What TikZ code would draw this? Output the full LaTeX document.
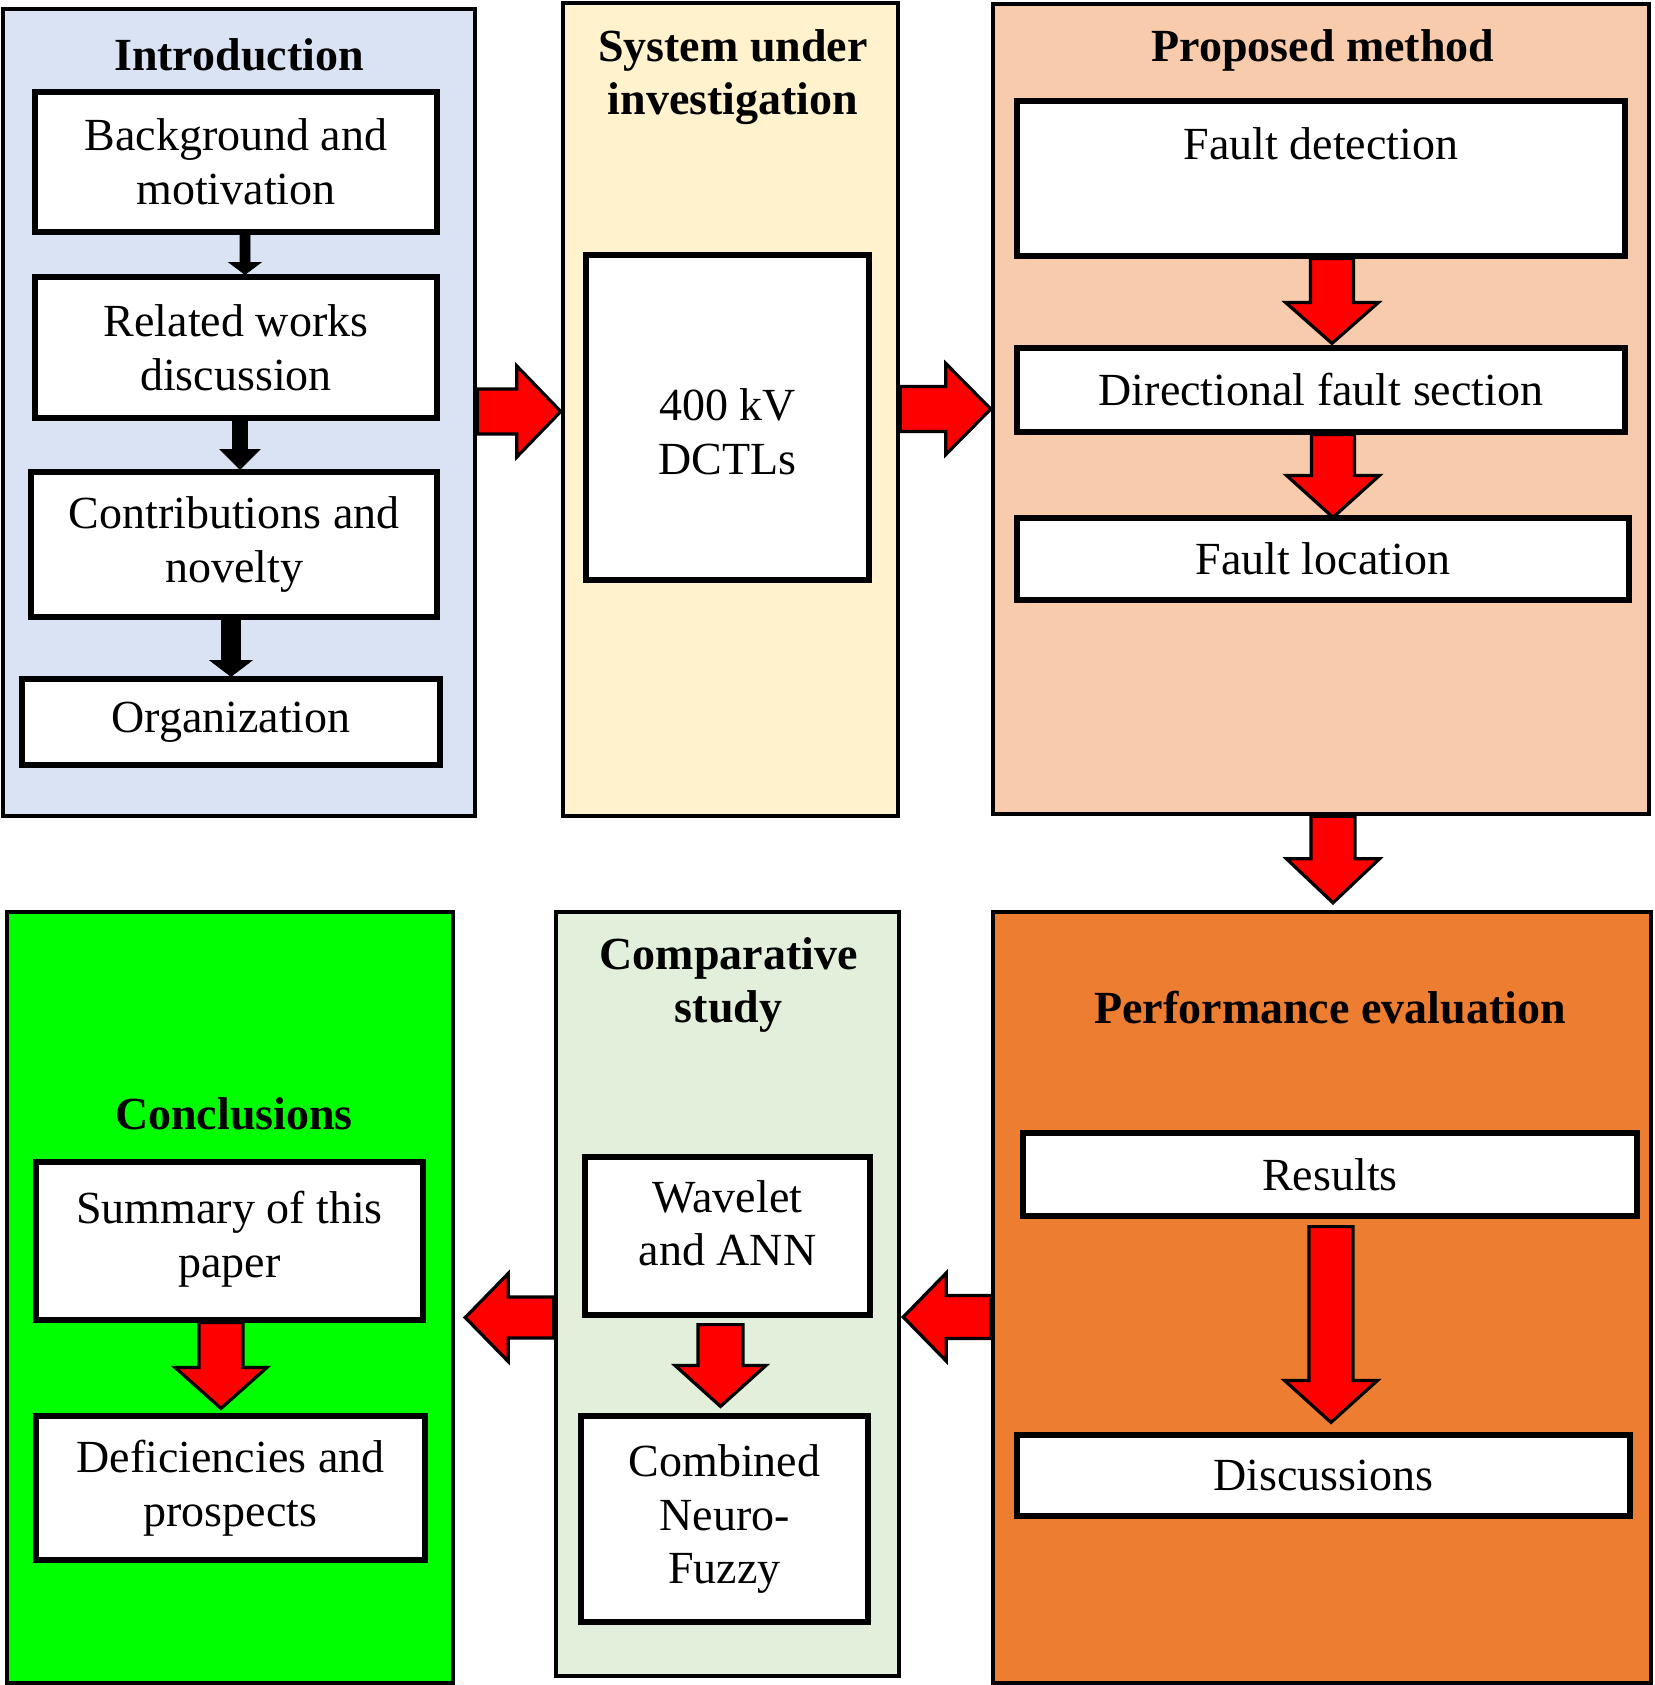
\documentclass[tikz,border=0pt]{standalone}
\usepackage{fontspec}
\setmainfont{Liberation Serif}
\usepackage{tikz}
\usetikzlibrary{calc}

\newcommand{\boxfont}{\fontsize{23}{26.8}\selectfont}

% Стрелка вниз: откуда, острие, полуширина, полуширина головки, длина головки, стиль
\newcommand{\blockdown}[6]{%
    \coordinate (ba-f) at (#1);
    \coordinate (ba-t) at (#2);
    \coordinate (ba-s) at (ba-t |- ba-f);
    \draw[#6] ($(ba-s)+(-#3,0)$) -- ($(ba-t)+(-#3,-#5)$) -- ($(ba-t)+(-#4,-#5)$) -- (ba-t)
        -- ($(ba-t)+(#4,-#5)$) -- ($(ba-t)+(#3,-#5)$) -- ($(ba-s)+(#3,0)$) -- cycle;
}

% Стрелка вбок: откуда, острие, полуширина, полуширина головки, длина головки, направление, стиль
\newcommand{\blockside}[7]{%
    \coordinate (ba-f) at (#1);
    \coordinate (ba-t) at (#2);
    \coordinate (ba-s) at (ba-f |- ba-t);
    \draw[#7] ($(ba-s)+(0,-#3)$) -- ($(ba-t)+({-(#6)*(#5)},-#3)$) -- ($(ba-t)+({-(#6)*(#5)},-#4)$) -- (ba-t)
        -- ($(ba-t)+({-(#6)*(#5)},#4)$) -- ($(ba-t)+({-(#6)*(#5)},#3)$) -- ($(ba-s)+(0,#3)$) -- cycle;
}

\begin{document}
        \begin{tikzpicture}[x=1pt, y=-1pt, font=\boxfont,
            panel/.style={draw, line width=2.2pt, inner sep=0pt},
            inbox/.style={draw, fill=white, line width=2.6pt, align=center, inner sep=0pt},
            headline/.style={font=\boxfont\bfseries, align=center, inner sep=0pt},
            redarrow/.style={fill=red, draw=black, line width=1.6pt, line join=miter},
            blackarrow/.style={fill=black, draw=black, line width=0.4pt}]
            % Цвета
            \definecolor{introblue}{RGB}{218,227,243}
            \definecolor{sandy}{RGB}{255,242,204}
            \definecolor{peach}{RGB}{248,203,173}
            \definecolor{pumpkin}{RGB}{237,125,49}
            \definecolor{mint}{RGB}{226,239,218}
            \definecolor{brightgreen}{RGB}{0,255,0}

            \useasboundingbox (0,0) rectangle (827,842.5);

            % Панели
            \node[panel, fill=introblue, minimum width=236pt, minimum height=403.5pt] (intro) at (119.5,206.25) {};
            \node[panel, fill=sandy, minimum width=167.5pt, minimum height=406.5pt] (sys) at (365.25,204.75) {};
            \node[panel, fill=peach, minimum width=328pt, minimum height=405pt] (prop) at (660.5,204.5) {};
            \node[panel, fill=brightgreen, minimum width=223pt, minimum height=385.5pt] (conc) at (115,648.75) {};
            \node[panel, fill=mint, minimum width=171.5pt, minimum height=382pt] (comp) at (363.75,647) {};
            \node[panel, fill=pumpkin, minimum width=329pt, minimum height=385.5pt] (perf) at (661,648.75) {};

            % Заголовки
            \node[headline] (introtitle) at (119.5,27.5) {Introduction};
            \node[headline] (systitle) at (366.5,38.5) {System under\\investigation};
            \node[headline] (proptitle) at (661.5,25.2) {Proposed method};
            \node[headline] (perftitle) at (665,504) {Performance evaluation};
            \node[headline] (comptitle) at (364.25,492.5) {Comparative\\study};
            \node[headline] (conctitle) at (117,557) {Conclusions};

            % Блоки
            \node[inbox, minimum width=201pt, minimum height=70pt] (bg) at (118,81) {Background and\\motivation};
            \node[inbox, minimum width=201pt, minimum height=70.5pt] (rel) at (118,173.75) {Related works\\discussion};
            \node[inbox, minimum width=203pt, minimum height=72.5pt] (contrib) at (117,272.25) {Contributions and\\novelty};
            \node[inbox, minimum width=209pt, minimum height=43pt] (org) at (115.5,361) {Organization};
            \node[inbox, minimum width=141.5pt, text height=109.5pt, text depth=53pt] (kv) at (363.75,208.75) {400 kV\\DCTLs};
            \node[inbox, minimum width=304pt, text height=29.4pt, text depth=48.1pt] (fd) at (660.5,89.25) {Fault detection};
            \node[inbox, minimum width=304pt, minimum height=42pt] (dir) at (660.5,195) {Directional fault section};
            \node[inbox, minimum width=306pt, minimum height=41pt] (loc) at (661.5,279.5) {Fault location};
            \node[inbox, minimum width=307pt, minimum height=41.5pt] (res) at (665,587.25) {Results};
            \node[inbox, minimum width=306.5pt, minimum height=40.5pt] (disc) at (661.75,737.75) {Discussions};
            \node[inbox, minimum width=142.5pt, text height=54.4pt, text depth=24.6pt] (wav) at (363.75,618) {Wavelet\\and ANN};
            \node[inbox, minimum width=143.5pt, minimum height=103pt] (comb) at (362.25,759.5) {Combined\\Neuro-\\Fuzzy};
            \node[inbox, minimum width=193.5pt, text height=57.5pt, text depth=21.5pt] (summ) at (114.75,620.5) {Summary of this\\paper};
            \node[inbox, minimum width=194.5pt, minimum height=72pt] (defi) at (115.25,744) {Deficiencies and\\prospects};

            % Стрелки
            \blockdown{bg.south}{$(rel.north)+(4.5,0)$}{2.5}{8}{6}{blackarrow}
            \blockdown{rel.south}{$(contrib.north)+(3,0)$}{3.75}{10}{10}{blackarrow}
            \blockdown{contrib.south}{org.north}{4.75}{10.5}{8}{blackarrow}
            \blockside{intro.east}{$(sys.west)+(0,1)$}{11.25}{22.75}{22}{1}{redarrow}
            \blockside{sys.east}{prop.west}{11.25}{22.75}{22.5}{1}{redarrow}
            \blockdown{fd.south}{$(dir.north)+(5.5,-1)$}{10.75}{23.25}{20.5}{redarrow}
            \blockdown{dir.south}{$(loc.north)+(5,1)$}{10.75}{23.25}{21}{redarrow}
            \blockdown{prop.south}{$(perf.north)+(5.5,-3.5)$}{11}{23.25}{22}{redarrow}
            \blockdown{$(res.south)+(0,4)$}{$(disc.north)+(3.75,-5)$}{11}{23.25}{21}{redarrow}
            \blockside{perf.west}{$(comp.east)+(1,11.5)$}{10.75}{22}{21.5}{-1}{redarrow}
            \blockdown{$(wav.south)+(0,3.5)$}{$(comb.north)+(-2,-3.5)$}{11.25}{22.75}{20.5}{redarrow}
            \blockside{comp.west}{$(conc.east)+(5,10)$}{10.25}{22}{21.5}{-1}{redarrow}
            \blockdown{summ.south}{$(defi.north)+(-4.75,-2.5)$}{11}{23}{20.5}{redarrow}

        \end{tikzpicture}
\end{document}
